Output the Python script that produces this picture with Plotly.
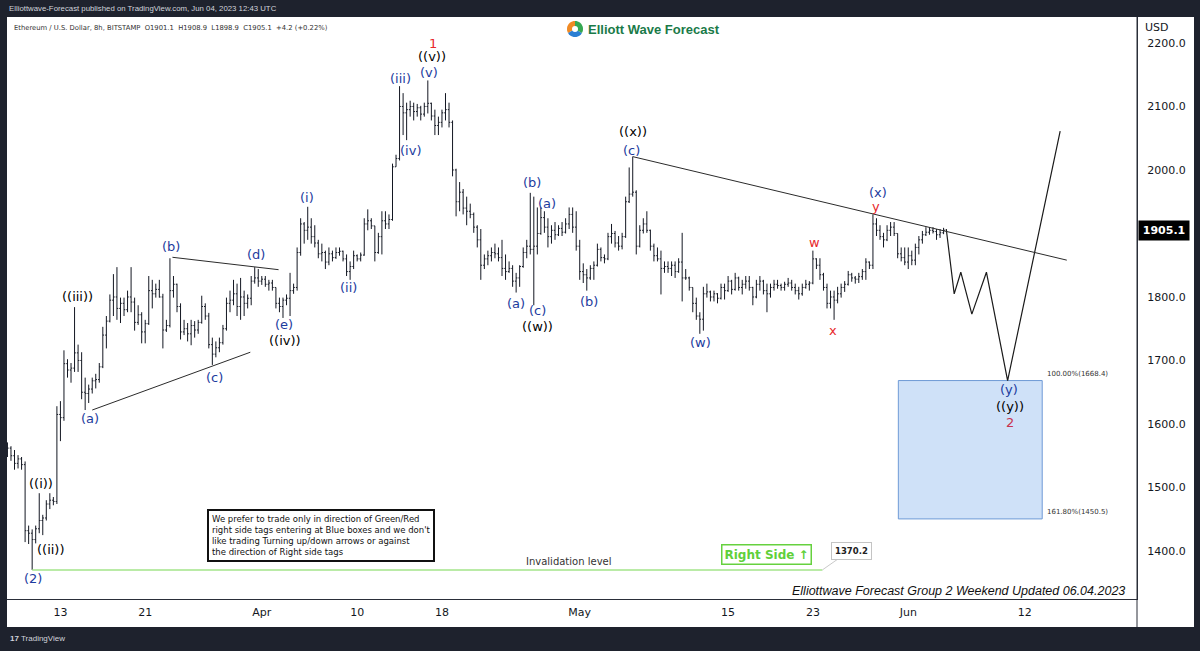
import math
import pandas as pd
import plotly.graph_objects as go

# ---------------- data ----------------
bar_start = "2023-03-08 00:00"   # 8h bars, ETH/USD Bitstamp

opens = [
    1556,1562,1550,1538,1545,1536,1432,1428,1418,1435,
    1448,1452,1474,1480,1478,1615,1610,1695,1685,1688,
    1712,1700,1650,1648,1655,1668,1670,1690,1740,1762,
    1795,1800,1782,1790,1780,1800,1792,1760,1772,1745,
    1758,1810,1805,1812,1800,1748,1755,1810,1820,1785,
    1745,1750,1742,1755,1748,1760,1785,1770,1725,1710,
    1720,1728,1750,1790,1795,1805,1785,1800,1790,1798,
    1825,1830,1825,1828,1820,1822,1815,1790,1785,1795,
    1798,1810,1815,1870,1915,1905,1910,1895,1885,1868,
    1870,1855,1868,1862,1870,1872,1860,1840,1848,1865,
    1860,1866,1915,1920,1912,1870,1895,1920,1915,1922,
    2005,2018,2100,2090,2095,2100,2092,2098,2088,2100,
    2105,2085,2070,2075,2090,2095,2075,2000,1950,1965,
    1940,1935,1930,1910,1890,1850,1860,1865,1870,1868,
    1862,1845,1840,1845,1825,1830,1848,1870,1880,1875,
    1880,1900,1925,1910,1895,1905,1898,1908,1902,1915,
    1930,1910,1880,1840,1835,1830,1845,1850,1875,1862,
    1860,1895,1900,1885,1880,1895,1950,1962,1965,1880,
    1905,1915,1905,1880,1865,1860,1845,1848,1845,1850,
    1840,1855,1830,1830,1815,1790,1770,1765,1805,1808,
    1800,1805,1798,1815,1810,1825,1812,1830,1815,1820,
    1825,1815,1800,1820,1825,1810,1805,1815,1820,1818,
    1815,1820,1822,1815,1810,1805,1815,1820,1822,1860,
    1850,1835,1815,1790,1800,1795,1805,1815,1820,1835,
    1830,1828,1832,1840,1855,1850,1915,1905,1895,1890,
    1905,1910,1900,1868,1862,1855,1865,1858,1878,1890,
    1898,1902,1905,1903,1898,1901.1,
]
highs = [
    1571,1565,1559,1551,1548,1541,1440,1434,1440,1491,
    1457,1480,1491,1485,1628,1636,1716,1702,1696,1784,
    1725,1713,1673,1662,1673,1679,1696,1753,1770,1804,
    1836,1847,1799,1799,1810,1847,1799,1787,1776,1764,
    1833,1827,1821,1827,1805,1764,1861,1833,1821,1790,
    1764,1759,1764,1762,1764,1802,1790,1775,1736,1730,
    1736,1756,1799,1810,1827,1821,1830,1810,1804,1833,
    1847,1844,1833,1833,1827,1827,1815,1799,1799,1804,
    1838,1821,1878,1924,1918,1942,1924,1913,1890,1884,
    1873,1878,1873,1878,1878,1873,1867,1856,1873,1867,
    1870,1924,1938,1924,1912,1901,1935,1935,1930,2010,
    2024,2132,2121,2106,2109,2106,2104,2101,2106,2141,
    2106,2095,2084,2095,2121,2106,2078,2002,1981,1970,
    1958,1947,1933,1913,1907,1867,1873,1878,1884,1878,
    1890,1867,1856,1850,1838,1850,1878,1890,1964,1958,
    1941,1941,1935,1924,1913,1918,1913,1918,1924,1941,
    1941,1935,1890,1853,1844,1850,1856,1884,1878,1867,
    1901,1915,1904,1896,1901,1958,2004,2021,1968,1913,
    1924,1935,1906,1884,1878,1873,1856,1856,1856,1856,
    1861,1901,1844,1832,1815,1799,1776,1816,1821,1810,
    1810,1806,1821,1821,1833,1827,1838,1832,1827,1833,
    1833,1816,1827,1833,1827,1821,1821,1827,1827,1821,
    1824,1830,1827,1821,1816,1821,1827,1825,1873,1861,
    1861,1838,1821,1810,1810,1816,1821,1825,1841,1838,
    1833,1838,1844,1861,1856,1930,1924,1913,1901,1913,
    1918,1918,1900,1878,1878,1878,1873,1884,1896,1904,
    1910,1910,1910,1907,1907,1908.9,
]
lows = [
    1548,1542,1528,1530,1528,1414,1411,1370.2,1412,1428,
    1425,1448,1466,1472,1474,1573,1605,1673,1665,1682,
    1682,1639,1622,1633,1648,1656,1665,1688,1719,1760,
    1770,1764,1759,1770,1776,1776,1747,1756,1727,1727,
    1756,1782,1799,1799,1719,1745,1752,1799,1776,1733,
    1740,1730,1724,1736,1742,1758,1764,1719,1693,1705,
    1713,1725,1747,1776,1787,1770,1764,1770,1782,1787,
    1821,1816,1819,1816,1810,1810,1782,1776,1767,1787,
    1770,1805,1810,1865,1884,1890,1884,1878,1861,1856,
    1844,1850,1856,1860,1865,1856,1833,1827,1844,1856,
    1856,1865,1905,1907,1856,1868,1867,1907,1907,1920,
    2005,2015,2055,2047,2084,2078,2084,2078,2084,2089,
    2078,2055,2055,2067,2078,2067,1990,1927,1935,1930,
    1913,1924,1901,1878,1827,1844,1850,1856,1861,1856,
    1833,1827,1838,1816,1807,1816,1846,1861,1867,1787,
    1867,1898,1901,1878,1884,1890,1896,1896,1900,1907,
    1901,1873,1827,1822,1810,1827,1827,1848,1856,1853,
    1858,1884,1878,1873,1875,1893,1948,1958,1867,1878,
    1900,1901,1873,1856,1856,1804,1838,1838,1833,1830,
    1838,1793,1827,1810,1776,1764,1742,1747,1799,1793,
    1793,1790,1796,1796,1808,1804,1810,1810,1804,1813,
    1810,1787,1798,1810,1804,1776,1799,1810,1813,1810,
    1810,1816,1810,1804,1796,1802,1813,1810,1820,1844,
    1827,1810,1782,1782,1764,1790,1799,1808,1818,1824,
    1821,1822,1827,1827,1844,1844,1896,1890,1878,1888,
    1896,1896,1861,1856,1850,1844,1850,1850,1867,1884,
    1896,1898,1900,1890,1893,1898.9,
]
closes = [
    1562,1550,1538,1545,1536,1432,1428,1418,1435,1448,
    1452,1474,1480,1478,1615,1610,1695,1685,1688,1712,
    1700,1650,1648,1655,1668,1670,1690,1740,1762,1795,
    1800,1782,1790,1780,1800,1792,1760,1772,1745,1758,
    1810,1805,1812,1800,1748,1755,1810,1820,1785,1745,
    1750,1742,1755,1748,1760,1785,1770,1725,1710,1720,
    1728,1750,1790,1795,1805,1785,1800,1790,1798,1825,
    1830,1825,1828,1820,1822,1815,1790,1785,1795,1798,
    1810,1815,1870,1915,1905,1910,1895,1885,1868,1870,
    1855,1868,1862,1870,1872,1860,1840,1848,1865,1860,
    1866,1915,1920,1912,1870,1895,1920,1915,1922,2005,
    2018,2100,2090,2095,2100,2092,2098,2088,2100,2105,
    2085,2070,2075,2090,2095,2075,2000,1950,1965,1940,
    1935,1930,1910,1890,1850,1860,1865,1870,1868,1862,
    1845,1840,1845,1825,1830,1848,1870,1880,1875,1880,
    1900,1925,1910,1895,1905,1898,1908,1902,1915,1930,
    1910,1880,1840,1835,1830,1845,1850,1875,1862,1860,
    1895,1900,1885,1880,1895,1950,1962,1965,1880,1905,
    1915,1905,1880,1865,1860,1845,1848,1845,1850,1840,
    1855,1830,1830,1815,1790,1770,1765,1805,1808,1800,
    1805,1798,1815,1810,1825,1812,1830,1815,1820,1825,
    1815,1800,1820,1825,1810,1805,1815,1820,1818,1815,
    1820,1822,1815,1810,1805,1815,1820,1822,1860,1850,
    1835,1815,1790,1800,1795,1805,1815,1820,1835,1830,
    1828,1832,1840,1855,1850,1915,1905,1895,1890,1905,
    1910,1900,1868,1862,1855,1865,1858,1878,1890,1898,
    1902,1905,1903,1898,1901.1,1905.1,
]
times = pd.date_range(bar_start, periods=len(closes), freq="8h")

# 1900.0 is hidden behind the last-price tag in the reference
price_ticks = [1400, 1500, 1600, 1700, 1800, 2000, 2100, 2200]
date_ticks = ["2023-03-13", "2023-03-21", "2023-04-01", "2023-04-10", "2023-04-18",
              "2023-05-01", "2023-05-15", "2023-05-23", "2023-06-01", "2023-06-12"]
date_tick_labels = ["13", "21", "Apr", "10", "18", "May", "15", "23", "Jun", "12"]

# projected path
proj_times = ["2023-06-04 14:00", "2023-06-05 08:00", "2023-06-05 23:00", "2023-06-07 00:00",
              "2023-06-08 09:00", "2023-06-10 09:00", "2023-06-15 08:00"]
proj_prices = [1907, 1805, 1839, 1773, 1839, 1668.4, 2061]

# trend lines (t0, p0, t1, p1)
trend_lines = [
    ("2023-05-06 00:00", 2021, "2023-06-15 23:00", 1858),
    ("2023-03-23 13:40", 1862.5, "2023-04-02 14:00", 1843),
    ("2023-03-16 00:00", 1622, "2023-03-30 22:00", 1713),
]

invalidation = 1370.2
inval_start, inval_end = "2023-03-10 08:00", "2023-05-23 21:30"

fib_top, fib_bottom = 1668.4, 1450.5
box_start, box_end = "2023-05-31 01:30", "2023-06-13 15:20"

BLUE, BLACK, RED, RED2 = "#1d3c9e", "#000000", "#e8282b", "#c8334f"
wave_labels = [
    ("(2)", "2023-03-10 11:00", 1357, BLUE),
    ("((i))", "2023-03-11 03:00", 1506, BLACK),
    ("((ii))", "2023-03-12 01:30", 1402, BLACK),
    ("((iii))", "2023-03-14 14:00", 1801, BLACK),
    ("(a)", "2023-03-15 20:00", 1608, BLUE),
    ("(b)", "2023-03-23 11:20", 1880, BLUE),
    ("(c)", "2023-03-27 12:00", 1674, BLUE),
    ("(d)", "2023-03-31 11:45", 1867, BLUE),
    ("(e)", "2023-04-03 03:10", 1756, BLUE),
    ("((iv))", "2023-04-03 04:00", 1731, BLACK),
    ("(i)", "2023-04-05 07:10", 1956, BLUE),
    ("(ii)", "2023-04-09 05:00", 1815, BLUE),
    ("(iii)", "2023-04-14 01:50", 2144, BLUE),
    ("(iv)", "2023-04-15 01:00", 2030, BLUE),
    ("(v)", "2023-04-16 19:30", 2153, BLUE),
    ("((v))", "2023-04-17 01:00", 2178, BLACK),
    ("1", "2023-04-17 04:00", 2199, RED),
    ("(b)", "2023-04-26 12:45", 1981, BLUE),
    ("(a)", "2023-04-27 22:00", 1948, BLUE),
    ("(a)", "2023-04-25 00:00", 1789, BLUE),
    ("(c)", "2023-04-27 00:00", 1778, BLUE),
    ("((w))", "2023-04-27 00:00", 1753, BLACK),
    ("(b)", "2023-05-01 21:40", 1793, BLUE),
    ("((x))", "2023-05-06 01:00", 2060, BLACK),
    ("(c)", "2023-05-05 21:00", 2031, BLUE),
    ("(w)", "2023-05-12 09:00", 1729, BLUE),
    ("w", "2023-05-23 03:00", 1886, RED),
    ("x", "2023-05-24 22:00", 1747, RED),
    ("(x)", "2023-05-29 04:00", 1964, BLUE),
    ("y", "2023-05-28 23:00", 1943, RED),
    ("(y)", "2023-06-10 12:40", 1655, BLUE),
    ("((y))", "2023-06-10 14:00", 1627, BLACK),
    ("2", "2023-06-10 15:00", 1602, RED2),
]

# ---------------- layout helpers (pixel -> paper) ----------------
L_PX, R_PX, T_PX, B_PX = 7, 1137, 17, 599
def px(x):
    return (x - L_PX) / (R_PX - L_PX)
def py(y):
    return (B_PX - y) / (B_PX - T_PX)

fig = go.Figure()

fig.add_trace(go.Ohlc(
    x=times, open=opens, high=highs, low=lows, close=closes,
    increasing=dict(line=dict(color="#131722", width=1)),
    decreasing=dict(line=dict(color="#131722", width=1)),
    tickwidth=0.35, hoverinfo="skip", showlegend=False,
))

fig.add_trace(go.Scatter(
    x=proj_times, y=proj_prices, mode="lines",
    line=dict(color="#1a1a1a", width=1.2), hoverinfo="skip", showlegend=False,
))

shapes = []
# white chart canvas inside dark frame
shapes.append(dict(type="rect", xref="paper", yref="paper", x0=px(7), x1=px(1194),
                   y0=py(627), y1=py(17), fillcolor="#ffffff", line=dict(width=0), layer="below"))
# separator line right of the plot through the date scale
shapes.append(dict(type="line", xref="paper", yref="paper", x0=1, x1=1, y0=py(627), y1=1,
                   line=dict(color="#2a2e39", width=1)))
for t0, p0, t1, p1 in trend_lines:
    shapes.append(dict(type="line", xref="x", yref="y", x0=t0, y0=p0, x1=t1, y1=p1,
                       line=dict(color="#2b2b2b", width=1)))
# blue target box
shapes.append(dict(type="rect", xref="x", yref="y", x0=box_start, x1=box_end,
                   y0=fib_bottom, y1=fib_top, fillcolor="#cfe1f8",
                   line=dict(color="#6f9ad6", width=1), layer="below"))
# invalidation line + callout tail
shapes.append(dict(type="line", xref="x", yref="y", x0=inval_start, x1=inval_end,
                   y0=invalidation, y1=invalidation, line=dict(color="#a3e48a", width=1.5)))
shapes.append(dict(type="line", xref="x", yref="y", x0=inval_end, y0=invalidation,
                   x1="2023-05-25 10:00", y1=1388, line=dict(color="#c9c9c9", width=1)))

# logo swirl
cx, cy = px(575), py(29)
logo_cols = ["#f08a24", "#2b7fd3", "#36a852"]
for k, col in enumerate(logo_cols):
    a0 = math.radians(90 + k * 120)
    pts = ["M 0,0"]
    for s in range(0, 13):
        a = a0 + math.radians(120) * s / 12
        pts.append(f"L {8*math.cos(a):.2f},{8*math.sin(a):.2f}")
    pts.append("Z")
    shapes.append(dict(type="path", xref="paper", yref="paper", xsizemode="pixel",
                       ysizemode="pixel", xanchor=cx, yanchor=cy, path=" ".join(pts),
                       fillcolor=col, line=dict(width=0)))
shapes.append(dict(type="circle", xref="paper", yref="paper", xsizemode="pixel",
                   ysizemode="pixel", xanchor=cx, yanchor=cy, x0=-3, x1=3, y0=-3, y1=3,
                   fillcolor="#ffffff", line=dict(width=0)))

ann = []
for txt, t, p, col in wave_labels:
    ann.append(dict(x=t, y=p, xref="x", yref="y", text=txt, showarrow=False,
                    xanchor="center", yanchor="middle",
                    font=dict(family="DejaVu Sans", size=13, color=col)))

ann.append(dict(x="2023-06-13 22:00", y=fib_top + 11, xref="x", yref="y", xanchor="left",
                yanchor="middle", text="100.00%(1668.4)", showarrow=False,
                font=dict(family="DejaVu Sans", size=7, color="#333333")))
ann.append(dict(x="2023-06-13 22:00", y=fib_bottom + 11, xref="x", yref="y", xanchor="left",
                yanchor="middle", text="161.80%(1450.5)", showarrow=False,
                font=dict(family="DejaVu Sans", size=7, color="#333333")))
ann.append(dict(x="2023-04-29 22:00", y=1384, xref="x", yref="y", text="Invalidation level",
                xanchor="center", yanchor="middle",
                showarrow=False, font=dict(family="DejaVu Sans", size=10, color="#333333")))
ann.append(dict(x="2023-05-18 14:00", y=1394.5, xref="x", yref="y",
                xanchor="center", yanchor="middle",
                text="<b>Right Side \u2191</b>", showarrow=False, bgcolor="#ffffff",
                bordercolor="#66d13f", borderwidth=1.5, borderpad=2,
                font=dict(family="DejaVu Sans", size=12, color="#5fd03a")))
ann.append(dict(x="2023-05-26 15:00", y=1400, xref="x", yref="y", text="<b>1370.2</b>",
                xanchor="center", yanchor="middle",
                showarrow=False, bgcolor="#ffffff", bordercolor="#c4c4c4", borderwidth=1,
                borderpad=3, font=dict(family="DejaVu Sans", size=8.5, color="#222222")))
ann.append(dict(x=px(207), y=py(509), xref="paper", yref="paper", xanchor="left", yanchor="top",
                align="left", showarrow=False, bgcolor="#ffffff", bordercolor="#111111",
                borderwidth=2, borderpad=3,
                text=("We prefer to trade only in direction of Green/Red<br>"
                      "right side tags entering at Blue boxes and we don't<br>"
                      "like trading Turning up/down arrows or against<br>"
                      "the direction of Right side tags"),
                font=dict(family="DejaVu Sans", size=8.5, color="#111111")))

# header / captions
ann.append(dict(x=px(7), y=py(8), xref="paper", yref="paper", xanchor="left", yanchor="middle",
                showarrow=False,
                text="Elliottwave-Forecast published on TradingView.com, Jun 04, 2023 12:43 UTC",
                font=dict(family="Liberation Sans", size=7.8, color="#d1d4dc")))
ann.append(dict(x=px(12), y=py(28), xref="paper", yref="paper", xanchor="left", yanchor="middle",
                showarrow=False,
                text="Ethereum / U.S. Dollar, 8h, BITSTAMP  O1901.1  H1908.9  L1898.9  C1905.1  +4.2 (+0.22%)",
                font=dict(family="DejaVu Sans", size=6.8, color="#333333")))
ann.append(dict(x=px(586), y=py(29), xref="paper", yref="paper", xanchor="left", yanchor="middle",
                showarrow=False, text="<b>Elliott Wave Forecast</b>",
                font=dict(family="Liberation Sans", size=13, color="#1a7a48")))
ann.append(dict(x=px(1127), y=py(591), xref="paper", yref="paper", xanchor="right",
                yanchor="middle", showarrow=False,
                text="<i>Elliottwave Forecast Group 2 Weekend Updated 06.04.2023</i>",
                font=dict(family="Liberation Sans", size=12.5, color="#111111")))
ann.append(dict(x=px(1143), y=py(27), xref="paper", yref="paper", xanchor="left", yanchor="middle",
                showarrow=False,
                text="USD", font=dict(family="DejaVu Sans", size=11, color="#131722")))
ann.append(dict(x=px(1138), y=closes[-1], xref="paper", yref="y", xanchor="left", yanchor="middle",
                showarrow=False,
                text="<b>1905.1</b>", bgcolor="#000000", borderpad=3, width=44,
                font=dict(family="DejaVu Sans", size=11, color="#ffffff")))
ann.append(dict(x=px(8), y=py(638), xref="paper", yref="paper", xanchor="left", yanchor="middle",
                showarrow=False, text="<b>17</b> TradingView",
                font=dict(family="Liberation Sans", size=8, color="#d1d4dc")))

fig.update_layout(
    width=1200, height=651,
    margin=dict(l=L_PX, r=1200 - R_PX, t=T_PX, b=651 - B_PX),
    paper_bgcolor="#1e222d", plot_bgcolor="#ffffff",
    showlegend=False, shapes=shapes, annotations=ann,
    xaxis=dict(type="date", range=["2023-03-07 23:00", "2023-06-22 14:00"],
               rangeslider=dict(visible=False), showgrid=False, zeroline=False,
               tickvals=date_ticks, ticktext=date_tick_labels,
               tickfont=dict(family="DejaVu Sans", size=11, color="#131722"),
               ticks="outside", ticklen=3, tickcolor="rgba(0,0,0,0)",
               showline=True, linecolor="#2a2e39", linewidth=1),
    yaxis=dict(side="right", range=[1324.4, 2240.9], showgrid=False, zeroline=False,
               tickvals=price_ticks, ticktext=[f"{v:.1f}" for v in price_ticks],
               tickfont=dict(family="DejaVu Sans", size=11, color="#131722"),
               ticks="outside", ticklen=7, tickcolor="rgba(0,0,0,0)",
               showline=True, linecolor="#2a2e39", linewidth=1),
)

fig.write_html("out.html")
